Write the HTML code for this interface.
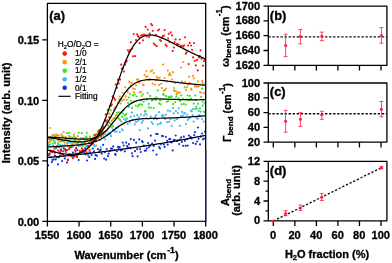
<!DOCTYPE html><html><head><meta charset="utf-8"><style>html,body{margin:0;padding:0;background:#fff;}svg{display:block;will-change:transform;}text{font-family:"Liberation Sans",sans-serif;}text[font-weight="bold"]{stroke:#000;stroke-width:0.3px;}text.lg{stroke:#000;stroke-width:0.22px;}</style></head><body>
<svg width="392" height="263" viewBox="0 0 392 263">
<rect width="392" height="263" fill="#fff"/>
<g fill="#1632d2">
<circle cx="48.2" cy="165.3" r="1.08"/>
<circle cx="48.9" cy="155.3" r="1.08"/>
<circle cx="49.8" cy="153.7" r="1.08"/>
<circle cx="50.9" cy="157.3" r="1.08"/>
<circle cx="51.8" cy="161.9" r="1.08"/>
<circle cx="52.6" cy="159.8" r="1.08"/>
<circle cx="53.7" cy="159.3" r="1.08"/>
<circle cx="54.9" cy="155.7" r="1.08"/>
<circle cx="55.7" cy="159.4" r="1.08"/>
<circle cx="56.9" cy="157.3" r="1.08"/>
<circle cx="58.0" cy="164.3" r="1.08"/>
<circle cx="58.9" cy="157.2" r="1.08"/>
<circle cx="59.8" cy="156.2" r="1.08"/>
<circle cx="60.9" cy="149.6" r="1.08"/>
<circle cx="62.1" cy="161.1" r="1.08"/>
<circle cx="62.8" cy="154.2" r="1.08"/>
<circle cx="63.9" cy="148.3" r="1.08"/>
<circle cx="64.8" cy="158.4" r="1.08"/>
<circle cx="65.9" cy="150.2" r="1.08"/>
<circle cx="67.0" cy="162.6" r="1.08"/>
<circle cx="67.7" cy="159.6" r="1.08"/>
<circle cx="69.0" cy="154.7" r="1.08"/>
<circle cx="70.0" cy="147.4" r="1.08"/>
<circle cx="70.9" cy="146.9" r="1.08"/>
<circle cx="71.9" cy="156.5" r="1.08"/>
<circle cx="73.0" cy="152.7" r="1.08"/>
<circle cx="73.6" cy="155.5" r="1.08"/>
<circle cx="74.8" cy="156.1" r="1.08"/>
<circle cx="76.2" cy="148.1" r="1.08"/>
<circle cx="77.2" cy="157.1" r="1.08"/>
<circle cx="78.1" cy="154.2" r="1.08"/>
<circle cx="78.7" cy="160.1" r="1.08"/>
<circle cx="80.0" cy="152.7" r="1.08"/>
<circle cx="80.9" cy="145.3" r="1.08"/>
<circle cx="81.8" cy="152.4" r="1.08"/>
<circle cx="82.8" cy="149.9" r="1.08"/>
<circle cx="83.9" cy="152.5" r="1.08"/>
<circle cx="85.1" cy="148.3" r="1.08"/>
<circle cx="85.9" cy="154.3" r="1.08"/>
<circle cx="87.1" cy="160.5" r="1.08"/>
<circle cx="88.1" cy="155.1" r="1.08"/>
<circle cx="89.2" cy="156.9" r="1.08"/>
<circle cx="90.1" cy="152.4" r="1.08"/>
<circle cx="91.0" cy="144.7" r="1.08"/>
<circle cx="91.6" cy="155.0" r="1.08"/>
<circle cx="92.8" cy="148.5" r="1.08"/>
<circle cx="94.0" cy="151.4" r="1.08"/>
<circle cx="95.0" cy="158.9" r="1.08"/>
<circle cx="95.6" cy="155.2" r="1.08"/>
<circle cx="96.9" cy="155.7" r="1.08"/>
<circle cx="97.9" cy="149.1" r="1.08"/>
<circle cx="99.0" cy="152.0" r="1.08"/>
<circle cx="100.0" cy="150.5" r="1.08"/>
<circle cx="100.7" cy="149.7" r="1.08"/>
<circle cx="101.7" cy="153.7" r="1.08"/>
<circle cx="103.1" cy="144.8" r="1.08"/>
<circle cx="104.2" cy="158.5" r="1.08"/>
<circle cx="104.8" cy="152.2" r="1.08"/>
<circle cx="106.1" cy="159.7" r="1.08"/>
<circle cx="106.7" cy="149.0" r="1.08"/>
<circle cx="107.9" cy="156.2" r="1.08"/>
<circle cx="108.7" cy="153.7" r="1.08"/>
<circle cx="110.0" cy="151.0" r="1.08"/>
<circle cx="110.9" cy="148.6" r="1.08"/>
<circle cx="112.0" cy="148.7" r="1.08"/>
<circle cx="113.2" cy="146.4" r="1.08"/>
<circle cx="114.1" cy="150.0" r="1.08"/>
<circle cx="115.1" cy="154.0" r="1.08"/>
<circle cx="115.6" cy="154.8" r="1.08"/>
<circle cx="116.8" cy="151.3" r="1.08"/>
<circle cx="118.1" cy="146.8" r="1.08"/>
<circle cx="118.6" cy="147.9" r="1.08"/>
<circle cx="119.8" cy="147.0" r="1.08"/>
<circle cx="120.9" cy="150.4" r="1.08"/>
<circle cx="121.9" cy="149.7" r="1.08"/>
<circle cx="122.8" cy="142.6" r="1.08"/>
<circle cx="123.7" cy="145.5" r="1.08"/>
<circle cx="124.8" cy="151.3" r="1.08"/>
<circle cx="126.2" cy="142.6" r="1.08"/>
<circle cx="127.1" cy="146.0" r="1.08"/>
<circle cx="127.7" cy="147.1" r="1.08"/>
<circle cx="128.9" cy="144.2" r="1.08"/>
<circle cx="130.2" cy="148.2" r="1.08"/>
<circle cx="130.8" cy="139.1" r="1.08"/>
<circle cx="132.1" cy="153.3" r="1.08"/>
<circle cx="132.6" cy="156.2" r="1.08"/>
<circle cx="134.0" cy="139.9" r="1.08"/>
<circle cx="135.0" cy="151.2" r="1.08"/>
<circle cx="136.2" cy="142.7" r="1.08"/>
<circle cx="137.2" cy="149.2" r="1.08"/>
<circle cx="137.6" cy="156.3" r="1.08"/>
<circle cx="139.2" cy="139.4" r="1.08"/>
<circle cx="140.1" cy="149.1" r="1.08"/>
<circle cx="140.7" cy="152.1" r="1.08"/>
<circle cx="142.0" cy="141.0" r="1.08"/>
<circle cx="142.7" cy="142.2" r="1.08"/>
<circle cx="143.9" cy="145.6" r="1.08"/>
<circle cx="144.7" cy="150.7" r="1.08"/>
<circle cx="146.0" cy="150.6" r="1.08"/>
<circle cx="146.7" cy="148.5" r="1.08"/>
<circle cx="148.1" cy="143.1" r="1.08"/>
<circle cx="148.9" cy="147.3" r="1.08"/>
<circle cx="150.0" cy="145.8" r="1.08"/>
<circle cx="150.8" cy="135.7" r="1.08"/>
<circle cx="152.1" cy="143.6" r="1.08"/>
<circle cx="153.1" cy="150.5" r="1.08"/>
<circle cx="153.8" cy="145.9" r="1.08"/>
<circle cx="155.1" cy="140.6" r="1.08"/>
<circle cx="156.1" cy="133.8" r="1.08"/>
<circle cx="156.6" cy="154.6" r="1.08"/>
<circle cx="157.6" cy="134.2" r="1.08"/>
<circle cx="159.1" cy="147.0" r="1.08"/>
<circle cx="160.0" cy="148.4" r="1.08"/>
<circle cx="160.8" cy="144.2" r="1.08"/>
<circle cx="162.1" cy="135.9" r="1.08"/>
<circle cx="162.8" cy="136.2" r="1.08"/>
<circle cx="163.8" cy="144.5" r="1.08"/>
<circle cx="164.6" cy="146.9" r="1.08"/>
<circle cx="165.8" cy="136.8" r="1.08"/>
<circle cx="167.1" cy="140.8" r="1.08"/>
<circle cx="167.7" cy="144.7" r="1.08"/>
<circle cx="169.2" cy="139.2" r="1.08"/>
<circle cx="170.2" cy="138.9" r="1.08"/>
<circle cx="170.8" cy="142.0" r="1.08"/>
<circle cx="171.7" cy="142.5" r="1.08"/>
<circle cx="172.7" cy="150.4" r="1.08"/>
<circle cx="173.6" cy="140.1" r="1.08"/>
<circle cx="174.6" cy="139.9" r="1.08"/>
<circle cx="175.7" cy="135.5" r="1.08"/>
<circle cx="177.1" cy="140.9" r="1.08"/>
<circle cx="177.6" cy="140.3" r="1.08"/>
<circle cx="179.2" cy="144.1" r="1.08"/>
<circle cx="179.9" cy="139.5" r="1.08"/>
<circle cx="181.1" cy="137.3" r="1.08"/>
<circle cx="181.8" cy="141.9" r="1.08"/>
<circle cx="183.1" cy="145.8" r="1.08"/>
<circle cx="183.8" cy="136.7" r="1.08"/>
<circle cx="184.9" cy="140.8" r="1.08"/>
<circle cx="185.7" cy="145.8" r="1.08"/>
<circle cx="187.0" cy="139.1" r="1.08"/>
<circle cx="187.7" cy="145.6" r="1.08"/>
<circle cx="188.9" cy="135.5" r="1.08"/>
<circle cx="190.2" cy="137.5" r="1.08"/>
<circle cx="190.8" cy="137.0" r="1.08"/>
<circle cx="191.6" cy="138.4" r="1.08"/>
<circle cx="193.1" cy="143.0" r="1.08"/>
<circle cx="194.2" cy="135.2" r="1.08"/>
<circle cx="194.9" cy="132.2" r="1.08"/>
<circle cx="195.7" cy="143.9" r="1.08"/>
<circle cx="197.1" cy="141.5" r="1.08"/>
<circle cx="198.0" cy="127.5" r="1.08"/>
<circle cx="198.6" cy="138.8" r="1.08"/>
<circle cx="200.0" cy="144.4" r="1.08"/>
<circle cx="200.7" cy="136.7" r="1.08"/>
<circle cx="202.1" cy="133.5" r="1.08"/>
<circle cx="202.9" cy="139.4" r="1.08"/>
<circle cx="204.1" cy="138.5" r="1.08"/>
<circle cx="205.0" cy="131.7" r="1.08"/>
</g>
<g fill="#3cbaf8">
<circle cx="47.9" cy="144.6" r="1.08"/>
<circle cx="48.8" cy="145.1" r="1.08"/>
<circle cx="49.8" cy="144.3" r="1.08"/>
<circle cx="50.6" cy="137.6" r="1.08"/>
<circle cx="51.9" cy="139.1" r="1.08"/>
<circle cx="53.2" cy="145.7" r="1.08"/>
<circle cx="54.0" cy="148.7" r="1.08"/>
<circle cx="54.8" cy="141.8" r="1.08"/>
<circle cx="55.8" cy="148.6" r="1.08"/>
<circle cx="57.0" cy="146.3" r="1.08"/>
<circle cx="58.2" cy="144.6" r="1.08"/>
<circle cx="59.0" cy="150.8" r="1.08"/>
<circle cx="59.9" cy="154.2" r="1.08"/>
<circle cx="61.0" cy="146.2" r="1.08"/>
<circle cx="61.9" cy="147.6" r="1.08"/>
<circle cx="62.7" cy="145.3" r="1.08"/>
<circle cx="64.1" cy="150.1" r="1.08"/>
<circle cx="64.9" cy="145.3" r="1.08"/>
<circle cx="66.2" cy="140.4" r="1.08"/>
<circle cx="66.7" cy="139.3" r="1.08"/>
<circle cx="67.9" cy="142.9" r="1.08"/>
<circle cx="69.1" cy="140.5" r="1.08"/>
<circle cx="69.9" cy="141.8" r="1.08"/>
<circle cx="70.9" cy="142.8" r="1.08"/>
<circle cx="72.0" cy="142.1" r="1.08"/>
<circle cx="73.2" cy="146.7" r="1.08"/>
<circle cx="73.9" cy="141.3" r="1.08"/>
<circle cx="75.2" cy="140.1" r="1.08"/>
<circle cx="75.8" cy="137.9" r="1.08"/>
<circle cx="77.1" cy="150.2" r="1.08"/>
<circle cx="77.7" cy="143.8" r="1.08"/>
<circle cx="78.8" cy="145.8" r="1.08"/>
<circle cx="79.7" cy="146.1" r="1.08"/>
<circle cx="80.9" cy="138.3" r="1.08"/>
<circle cx="81.8" cy="144.1" r="1.08"/>
<circle cx="83.0" cy="143.8" r="1.08"/>
<circle cx="83.8" cy="138.0" r="1.08"/>
<circle cx="84.7" cy="141.2" r="1.08"/>
<circle cx="85.8" cy="145.8" r="1.08"/>
<circle cx="87.0" cy="147.1" r="1.08"/>
<circle cx="87.8" cy="155.2" r="1.08"/>
<circle cx="88.9" cy="152.1" r="1.08"/>
<circle cx="89.9" cy="142.7" r="1.08"/>
<circle cx="90.8" cy="143.2" r="1.08"/>
<circle cx="91.6" cy="141.7" r="1.08"/>
<circle cx="92.7" cy="138.8" r="1.08"/>
<circle cx="94.0" cy="144.8" r="1.08"/>
<circle cx="94.6" cy="146.2" r="1.08"/>
<circle cx="96.2" cy="138.4" r="1.08"/>
<circle cx="96.9" cy="137.4" r="1.08"/>
<circle cx="97.8" cy="138.0" r="1.08"/>
<circle cx="99.0" cy="130.1" r="1.08"/>
<circle cx="100.1" cy="140.2" r="1.08"/>
<circle cx="100.7" cy="147.2" r="1.08"/>
<circle cx="102.0" cy="138.5" r="1.08"/>
<circle cx="102.8" cy="132.6" r="1.08"/>
<circle cx="103.9" cy="137.3" r="1.08"/>
<circle cx="105.1" cy="139.3" r="1.08"/>
<circle cx="105.9" cy="134.7" r="1.08"/>
<circle cx="106.9" cy="131.0" r="1.08"/>
<circle cx="107.8" cy="134.4" r="1.08"/>
<circle cx="109.2" cy="133.1" r="1.08"/>
<circle cx="110.2" cy="133.9" r="1.08"/>
<circle cx="111.1" cy="136.2" r="1.08"/>
<circle cx="112.0" cy="127.4" r="1.08"/>
<circle cx="112.8" cy="129.5" r="1.08"/>
<circle cx="114.0" cy="130.2" r="1.08"/>
<circle cx="115.0" cy="131.6" r="1.08"/>
<circle cx="115.9" cy="128.2" r="1.08"/>
<circle cx="116.7" cy="131.6" r="1.08"/>
<circle cx="117.7" cy="127.7" r="1.08"/>
<circle cx="118.6" cy="118.3" r="1.08"/>
<circle cx="119.8" cy="132.2" r="1.08"/>
<circle cx="121.1" cy="121.4" r="1.08"/>
<circle cx="122.1" cy="129.3" r="1.08"/>
<circle cx="122.6" cy="130.3" r="1.08"/>
<circle cx="124.1" cy="119.0" r="1.08"/>
<circle cx="124.9" cy="115.0" r="1.08"/>
<circle cx="125.6" cy="120.4" r="1.08"/>
<circle cx="126.6" cy="118.7" r="1.08"/>
<circle cx="127.7" cy="123.9" r="1.08"/>
<circle cx="128.8" cy="107.0" r="1.08"/>
<circle cx="129.8" cy="122.3" r="1.08"/>
<circle cx="130.7" cy="116.7" r="1.08"/>
<circle cx="131.8" cy="112.7" r="1.08"/>
<circle cx="132.7" cy="119.9" r="1.08"/>
<circle cx="134.2" cy="116.1" r="1.08"/>
<circle cx="134.8" cy="124.3" r="1.08"/>
<circle cx="136.0" cy="121.9" r="1.08"/>
<circle cx="137.1" cy="115.1" r="1.08"/>
<circle cx="138.1" cy="120.8" r="1.08"/>
<circle cx="138.8" cy="117.0" r="1.08"/>
<circle cx="139.7" cy="130.2" r="1.08"/>
<circle cx="141.1" cy="114.6" r="1.08"/>
<circle cx="141.9" cy="122.9" r="1.08"/>
<circle cx="142.9" cy="121.0" r="1.08"/>
<circle cx="144.0" cy="115.6" r="1.08"/>
<circle cx="145.2" cy="113.5" r="1.08"/>
<circle cx="146.1" cy="118.0" r="1.08"/>
<circle cx="146.7" cy="114.8" r="1.08"/>
<circle cx="148.1" cy="128.4" r="1.08"/>
<circle cx="148.7" cy="103.9" r="1.08"/>
<circle cx="149.8" cy="118.5" r="1.08"/>
<circle cx="150.8" cy="116.7" r="1.08"/>
<circle cx="151.7" cy="122.2" r="1.08"/>
<circle cx="152.9" cy="124.0" r="1.08"/>
<circle cx="154.0" cy="118.9" r="1.08"/>
<circle cx="155.2" cy="117.1" r="1.08"/>
<circle cx="156.0" cy="115.1" r="1.08"/>
<circle cx="156.8" cy="119.3" r="1.08"/>
<circle cx="157.7" cy="124.4" r="1.08"/>
<circle cx="159.0" cy="112.2" r="1.08"/>
<circle cx="160.1" cy="123.8" r="1.08"/>
<circle cx="160.8" cy="122.9" r="1.08"/>
<circle cx="161.8" cy="116.0" r="1.08"/>
<circle cx="162.6" cy="114.9" r="1.08"/>
<circle cx="163.6" cy="116.5" r="1.08"/>
<circle cx="165.2" cy="118.9" r="1.08"/>
<circle cx="165.8" cy="114.9" r="1.08"/>
<circle cx="167.1" cy="122.0" r="1.08"/>
<circle cx="167.9" cy="110.6" r="1.08"/>
<circle cx="169.1" cy="121.8" r="1.08"/>
<circle cx="170.1" cy="111.3" r="1.08"/>
<circle cx="170.6" cy="119.3" r="1.08"/>
<circle cx="171.7" cy="125.8" r="1.08"/>
<circle cx="173.1" cy="108.1" r="1.08"/>
<circle cx="173.7" cy="113.4" r="1.08"/>
<circle cx="174.6" cy="120.4" r="1.08"/>
<circle cx="175.9" cy="111.0" r="1.08"/>
<circle cx="177.1" cy="119.2" r="1.08"/>
<circle cx="177.8" cy="113.1" r="1.08"/>
<circle cx="178.9" cy="108.3" r="1.08"/>
<circle cx="179.8" cy="125.8" r="1.08"/>
<circle cx="180.8" cy="116.2" r="1.08"/>
<circle cx="182.0" cy="111.9" r="1.08"/>
<circle cx="182.8" cy="115.6" r="1.08"/>
<circle cx="184.1" cy="113.4" r="1.08"/>
<circle cx="184.9" cy="113.2" r="1.08"/>
<circle cx="186.0" cy="124.1" r="1.08"/>
<circle cx="187.2" cy="114.6" r="1.08"/>
<circle cx="187.8" cy="119.8" r="1.08"/>
<circle cx="188.8" cy="118.3" r="1.08"/>
<circle cx="189.9" cy="117.8" r="1.08"/>
<circle cx="191.1" cy="110.7" r="1.08"/>
<circle cx="191.8" cy="111.4" r="1.08"/>
<circle cx="192.6" cy="115.0" r="1.08"/>
<circle cx="193.6" cy="121.6" r="1.08"/>
<circle cx="195.2" cy="109.0" r="1.08"/>
<circle cx="196.1" cy="106.7" r="1.08"/>
<circle cx="196.7" cy="118.2" r="1.08"/>
<circle cx="197.7" cy="118.7" r="1.08"/>
<circle cx="199.0" cy="115.3" r="1.08"/>
<circle cx="200.0" cy="116.5" r="1.08"/>
<circle cx="200.7" cy="111.7" r="1.08"/>
<circle cx="202.0" cy="119.0" r="1.08"/>
<circle cx="202.7" cy="105.7" r="1.08"/>
<circle cx="203.7" cy="121.5" r="1.08"/>
<circle cx="204.9" cy="112.3" r="1.08"/>
</g>
<g fill="#38e61c">
<circle cx="48.0" cy="148.6" r="1.08"/>
<circle cx="49.1" cy="139.3" r="1.08"/>
<circle cx="50.1" cy="141.4" r="1.08"/>
<circle cx="50.8" cy="140.0" r="1.08"/>
<circle cx="51.8" cy="137.6" r="1.08"/>
<circle cx="52.7" cy="143.3" r="1.08"/>
<circle cx="53.6" cy="140.4" r="1.08"/>
<circle cx="55.0" cy="143.3" r="1.08"/>
<circle cx="55.9" cy="136.9" r="1.08"/>
<circle cx="57.0" cy="135.2" r="1.08"/>
<circle cx="58.1" cy="143.4" r="1.08"/>
<circle cx="58.8" cy="139.0" r="1.08"/>
<circle cx="60.1" cy="145.3" r="1.08"/>
<circle cx="60.9" cy="140.5" r="1.08"/>
<circle cx="61.7" cy="136.2" r="1.08"/>
<circle cx="62.8" cy="141.5" r="1.08"/>
<circle cx="63.9" cy="140.6" r="1.08"/>
<circle cx="65.0" cy="139.7" r="1.08"/>
<circle cx="65.9" cy="138.3" r="1.08"/>
<circle cx="66.9" cy="133.0" r="1.08"/>
<circle cx="68.0" cy="140.5" r="1.08"/>
<circle cx="69.0" cy="133.0" r="1.08"/>
<circle cx="70.1" cy="137.2" r="1.08"/>
<circle cx="70.9" cy="146.2" r="1.08"/>
<circle cx="72.0" cy="137.6" r="1.08"/>
<circle cx="72.7" cy="143.1" r="1.08"/>
<circle cx="74.0" cy="136.7" r="1.08"/>
<circle cx="75.2" cy="138.3" r="1.08"/>
<circle cx="75.7" cy="138.6" r="1.08"/>
<circle cx="76.6" cy="142.3" r="1.08"/>
<circle cx="78.1" cy="142.7" r="1.08"/>
<circle cx="78.6" cy="132.8" r="1.08"/>
<circle cx="80.0" cy="141.7" r="1.08"/>
<circle cx="80.7" cy="142.2" r="1.08"/>
<circle cx="81.8" cy="133.2" r="1.08"/>
<circle cx="82.6" cy="145.8" r="1.08"/>
<circle cx="83.7" cy="144.7" r="1.08"/>
<circle cx="85.0" cy="138.5" r="1.08"/>
<circle cx="86.1" cy="136.6" r="1.08"/>
<circle cx="86.9" cy="132.8" r="1.08"/>
<circle cx="87.8" cy="140.1" r="1.08"/>
<circle cx="88.8" cy="143.0" r="1.08"/>
<circle cx="89.9" cy="136.7" r="1.08"/>
<circle cx="91.2" cy="141.3" r="1.08"/>
<circle cx="92.1" cy="141.3" r="1.08"/>
<circle cx="92.9" cy="137.6" r="1.08"/>
<circle cx="93.9" cy="135.3" r="1.08"/>
<circle cx="95.1" cy="138.5" r="1.08"/>
<circle cx="95.9" cy="140.6" r="1.08"/>
<circle cx="96.9" cy="134.2" r="1.08"/>
<circle cx="97.9" cy="131.3" r="1.08"/>
<circle cx="99.0" cy="131.1" r="1.08"/>
<circle cx="100.0" cy="134.2" r="1.08"/>
<circle cx="101.2" cy="128.9" r="1.08"/>
<circle cx="101.9" cy="130.9" r="1.08"/>
<circle cx="102.7" cy="126.4" r="1.08"/>
<circle cx="103.8" cy="134.1" r="1.08"/>
<circle cx="104.9" cy="132.1" r="1.08"/>
<circle cx="106.2" cy="131.1" r="1.08"/>
<circle cx="106.9" cy="124.9" r="1.08"/>
<circle cx="108.0" cy="125.5" r="1.08"/>
<circle cx="109.1" cy="122.7" r="1.08"/>
<circle cx="110.1" cy="123.4" r="1.08"/>
<circle cx="110.7" cy="110.4" r="1.08"/>
<circle cx="111.8" cy="123.8" r="1.08"/>
<circle cx="113.1" cy="126.0" r="1.08"/>
<circle cx="113.8" cy="118.3" r="1.08"/>
<circle cx="115.0" cy="118.0" r="1.08"/>
<circle cx="115.7" cy="118.3" r="1.08"/>
<circle cx="116.9" cy="112.8" r="1.08"/>
<circle cx="118.2" cy="118.3" r="1.08"/>
<circle cx="118.8" cy="112.4" r="1.08"/>
<circle cx="120.0" cy="119.9" r="1.08"/>
<circle cx="120.6" cy="103.5" r="1.08"/>
<circle cx="122.1" cy="116.9" r="1.08"/>
<circle cx="122.9" cy="113.4" r="1.08"/>
<circle cx="123.7" cy="110.3" r="1.08"/>
<circle cx="124.8" cy="115.4" r="1.08"/>
<circle cx="126.1" cy="114.1" r="1.08"/>
<circle cx="127.0" cy="118.5" r="1.08"/>
<circle cx="128.1" cy="103.0" r="1.08"/>
<circle cx="128.9" cy="97.5" r="1.08"/>
<circle cx="129.9" cy="93.8" r="1.08"/>
<circle cx="130.8" cy="100.8" r="1.08"/>
<circle cx="132.1" cy="107.9" r="1.08"/>
<circle cx="132.8" cy="95.4" r="1.08"/>
<circle cx="133.8" cy="101.5" r="1.08"/>
<circle cx="134.9" cy="94.5" r="1.08"/>
<circle cx="135.7" cy="105.5" r="1.08"/>
<circle cx="136.6" cy="96.5" r="1.08"/>
<circle cx="137.7" cy="106.5" r="1.08"/>
<circle cx="138.7" cy="105.2" r="1.08"/>
<circle cx="139.8" cy="104.4" r="1.08"/>
<circle cx="140.9" cy="100.6" r="1.08"/>
<circle cx="141.9" cy="104.7" r="1.08"/>
<circle cx="142.8" cy="94.4" r="1.08"/>
<circle cx="143.7" cy="101.7" r="1.08"/>
<circle cx="144.8" cy="111.2" r="1.08"/>
<circle cx="145.7" cy="111.3" r="1.08"/>
<circle cx="146.8" cy="99.9" r="1.08"/>
<circle cx="147.7" cy="93.2" r="1.08"/>
<circle cx="148.8" cy="107.4" r="1.08"/>
<circle cx="150.1" cy="95.9" r="1.08"/>
<circle cx="150.7" cy="107.9" r="1.08"/>
<circle cx="152.0" cy="100.4" r="1.08"/>
<circle cx="152.7" cy="100.2" r="1.08"/>
<circle cx="153.8" cy="108.1" r="1.08"/>
<circle cx="154.8" cy="98.5" r="1.08"/>
<circle cx="155.9" cy="99.9" r="1.08"/>
<circle cx="156.6" cy="97.3" r="1.08"/>
<circle cx="157.8" cy="90.4" r="1.08"/>
<circle cx="159.2" cy="103.4" r="1.08"/>
<circle cx="160.0" cy="100.3" r="1.08"/>
<circle cx="160.6" cy="104.3" r="1.08"/>
<circle cx="161.8" cy="99.3" r="1.08"/>
<circle cx="163.1" cy="94.1" r="1.08"/>
<circle cx="163.7" cy="94.9" r="1.08"/>
<circle cx="164.9" cy="90.1" r="1.08"/>
<circle cx="166.1" cy="96.2" r="1.08"/>
<circle cx="166.9" cy="101.8" r="1.08"/>
<circle cx="168.1" cy="101.0" r="1.08"/>
<circle cx="168.7" cy="96.9" r="1.08"/>
<circle cx="169.9" cy="97.4" r="1.08"/>
<circle cx="171.2" cy="96.4" r="1.08"/>
<circle cx="171.6" cy="97.0" r="1.08"/>
<circle cx="173.0" cy="104.2" r="1.08"/>
<circle cx="174.0" cy="90.7" r="1.08"/>
<circle cx="175.2" cy="102.0" r="1.08"/>
<circle cx="176.1" cy="97.0" r="1.08"/>
<circle cx="176.7" cy="94.7" r="1.08"/>
<circle cx="178.1" cy="98.8" r="1.08"/>
<circle cx="178.7" cy="98.7" r="1.08"/>
<circle cx="180.1" cy="100.9" r="1.08"/>
<circle cx="181.1" cy="95.3" r="1.08"/>
<circle cx="181.7" cy="104.3" r="1.08"/>
<circle cx="182.9" cy="98.9" r="1.08"/>
<circle cx="183.7" cy="104.0" r="1.08"/>
<circle cx="184.7" cy="87.4" r="1.08"/>
<circle cx="185.8" cy="104.6" r="1.08"/>
<circle cx="186.8" cy="99.7" r="1.08"/>
<circle cx="187.6" cy="95.5" r="1.08"/>
<circle cx="189.0" cy="100.3" r="1.08"/>
<circle cx="189.8" cy="95.8" r="1.08"/>
<circle cx="191.0" cy="98.5" r="1.08"/>
<circle cx="191.7" cy="99.9" r="1.08"/>
<circle cx="193.1" cy="109.0" r="1.08"/>
<circle cx="193.7" cy="103.6" r="1.08"/>
<circle cx="195.2" cy="95.4" r="1.08"/>
<circle cx="195.9" cy="99.8" r="1.08"/>
<circle cx="196.9" cy="108.7" r="1.08"/>
<circle cx="198.0" cy="103.8" r="1.08"/>
<circle cx="198.7" cy="110.9" r="1.08"/>
<circle cx="199.9" cy="108.4" r="1.08"/>
<circle cx="201.2" cy="96.9" r="1.08"/>
<circle cx="202.1" cy="88.7" r="1.08"/>
<circle cx="202.9" cy="101.7" r="1.08"/>
<circle cx="204.1" cy="111.7" r="1.08"/>
<circle cx="204.7" cy="103.6" r="1.08"/>
</g>
<g fill="#ff9410">
<circle cx="47.8" cy="138.4" r="1.08"/>
<circle cx="48.8" cy="142.5" r="1.08"/>
<circle cx="50.2" cy="128.0" r="1.08"/>
<circle cx="50.6" cy="140.8" r="1.08"/>
<circle cx="52.0" cy="138.0" r="1.08"/>
<circle cx="52.6" cy="135.2" r="1.08"/>
<circle cx="53.7" cy="135.0" r="1.08"/>
<circle cx="54.7" cy="135.9" r="1.08"/>
<circle cx="56.1" cy="134.4" r="1.08"/>
<circle cx="56.8" cy="137.4" r="1.08"/>
<circle cx="58.1" cy="140.6" r="1.08"/>
<circle cx="58.8" cy="135.4" r="1.08"/>
<circle cx="60.0" cy="141.6" r="1.08"/>
<circle cx="61.0" cy="141.0" r="1.08"/>
<circle cx="61.6" cy="134.0" r="1.08"/>
<circle cx="63.1" cy="136.4" r="1.08"/>
<circle cx="63.7" cy="131.9" r="1.08"/>
<circle cx="64.8" cy="142.6" r="1.08"/>
<circle cx="65.6" cy="136.9" r="1.08"/>
<circle cx="66.8" cy="143.8" r="1.08"/>
<circle cx="67.9" cy="146.6" r="1.08"/>
<circle cx="68.9" cy="136.0" r="1.08"/>
<circle cx="69.9" cy="139.3" r="1.08"/>
<circle cx="70.6" cy="138.7" r="1.08"/>
<circle cx="71.8" cy="145.0" r="1.08"/>
<circle cx="73.1" cy="145.0" r="1.08"/>
<circle cx="74.0" cy="134.6" r="1.08"/>
<circle cx="75.0" cy="143.0" r="1.08"/>
<circle cx="75.9" cy="141.0" r="1.08"/>
<circle cx="76.6" cy="145.6" r="1.08"/>
<circle cx="77.7" cy="136.2" r="1.08"/>
<circle cx="79.1" cy="140.5" r="1.08"/>
<circle cx="79.9" cy="145.5" r="1.08"/>
<circle cx="81.1" cy="150.7" r="1.08"/>
<circle cx="81.9" cy="138.5" r="1.08"/>
<circle cx="82.7" cy="138.8" r="1.08"/>
<circle cx="84.1" cy="143.7" r="1.08"/>
<circle cx="85.1" cy="142.5" r="1.08"/>
<circle cx="86.1" cy="140.9" r="1.08"/>
<circle cx="87.1" cy="137.8" r="1.08"/>
<circle cx="87.8" cy="149.1" r="1.08"/>
<circle cx="88.8" cy="145.6" r="1.08"/>
<circle cx="90.0" cy="137.7" r="1.08"/>
<circle cx="91.0" cy="140.2" r="1.08"/>
<circle cx="92.0" cy="144.6" r="1.08"/>
<circle cx="93.1" cy="144.2" r="1.08"/>
<circle cx="93.9" cy="140.6" r="1.08"/>
<circle cx="94.8" cy="137.2" r="1.08"/>
<circle cx="96.1" cy="145.7" r="1.08"/>
<circle cx="96.8" cy="133.7" r="1.08"/>
<circle cx="98.0" cy="135.8" r="1.08"/>
<circle cx="99.0" cy="132.1" r="1.08"/>
<circle cx="100.1" cy="137.1" r="1.08"/>
<circle cx="101.1" cy="129.5" r="1.08"/>
<circle cx="101.9" cy="134.9" r="1.08"/>
<circle cx="103.1" cy="135.5" r="1.08"/>
<circle cx="104.1" cy="131.9" r="1.08"/>
<circle cx="105.1" cy="121.1" r="1.08"/>
<circle cx="106.2" cy="123.4" r="1.08"/>
<circle cx="107.1" cy="119.8" r="1.08"/>
<circle cx="108.1" cy="121.9" r="1.08"/>
<circle cx="109.1" cy="114.0" r="1.08"/>
<circle cx="109.7" cy="113.6" r="1.08"/>
<circle cx="110.6" cy="117.2" r="1.08"/>
<circle cx="111.9" cy="120.9" r="1.08"/>
<circle cx="113.1" cy="119.1" r="1.08"/>
<circle cx="114.0" cy="109.5" r="1.08"/>
<circle cx="114.9" cy="107.3" r="1.08"/>
<circle cx="115.8" cy="115.7" r="1.08"/>
<circle cx="117.0" cy="115.0" r="1.08"/>
<circle cx="118.0" cy="102.9" r="1.08"/>
<circle cx="119.0" cy="99.7" r="1.08"/>
<circle cx="119.8" cy="96.6" r="1.08"/>
<circle cx="121.2" cy="99.1" r="1.08"/>
<circle cx="121.7" cy="100.7" r="1.08"/>
<circle cx="122.7" cy="92.8" r="1.08"/>
<circle cx="123.9" cy="99.7" r="1.08"/>
<circle cx="125.1" cy="87.3" r="1.08"/>
<circle cx="125.7" cy="96.3" r="1.08"/>
<circle cx="126.8" cy="100.0" r="1.08"/>
<circle cx="127.7" cy="91.9" r="1.08"/>
<circle cx="129.2" cy="81.6" r="1.08"/>
<circle cx="129.7" cy="82.5" r="1.08"/>
<circle cx="130.9" cy="85.5" r="1.08"/>
<circle cx="131.8" cy="83.0" r="1.08"/>
<circle cx="132.9" cy="88.4" r="1.08"/>
<circle cx="133.8" cy="92.4" r="1.08"/>
<circle cx="134.8" cy="89.0" r="1.08"/>
<circle cx="136.1" cy="85.5" r="1.08"/>
<circle cx="136.9" cy="79.6" r="1.08"/>
<circle cx="138.1" cy="79.4" r="1.08"/>
<circle cx="139.0" cy="82.5" r="1.08"/>
<circle cx="139.7" cy="92.6" r="1.08"/>
<circle cx="141.1" cy="91.9" r="1.08"/>
<circle cx="141.7" cy="96.0" r="1.08"/>
<circle cx="143.0" cy="84.5" r="1.08"/>
<circle cx="143.6" cy="85.2" r="1.08"/>
<circle cx="144.7" cy="74.9" r="1.08"/>
<circle cx="146.1" cy="76.9" r="1.08"/>
<circle cx="146.6" cy="71.0" r="1.08"/>
<circle cx="147.8" cy="76.3" r="1.08"/>
<circle cx="148.8" cy="80.1" r="1.08"/>
<circle cx="149.8" cy="79.1" r="1.08"/>
<circle cx="150.8" cy="71.4" r="1.08"/>
<circle cx="152.2" cy="70.4" r="1.08"/>
<circle cx="152.7" cy="83.7" r="1.08"/>
<circle cx="153.8" cy="73.2" r="1.08"/>
<circle cx="155.0" cy="84.8" r="1.08"/>
<circle cx="155.8" cy="80.1" r="1.08"/>
<circle cx="156.7" cy="76.8" r="1.08"/>
<circle cx="157.8" cy="78.4" r="1.08"/>
<circle cx="159.0" cy="84.8" r="1.08"/>
<circle cx="159.7" cy="77.6" r="1.08"/>
<circle cx="161.2" cy="83.8" r="1.08"/>
<circle cx="161.9" cy="88.1" r="1.08"/>
<circle cx="163.1" cy="64.6" r="1.08"/>
<circle cx="163.9" cy="90.7" r="1.08"/>
<circle cx="164.6" cy="78.0" r="1.08"/>
<circle cx="165.9" cy="88.6" r="1.08"/>
<circle cx="166.8" cy="81.3" r="1.08"/>
<circle cx="167.8" cy="70.7" r="1.08"/>
<circle cx="168.9" cy="74.9" r="1.08"/>
<circle cx="169.9" cy="73.3" r="1.08"/>
<circle cx="170.6" cy="75.1" r="1.08"/>
<circle cx="172.1" cy="79.5" r="1.08"/>
<circle cx="172.9" cy="72.2" r="1.08"/>
<circle cx="174.1" cy="88.1" r="1.08"/>
<circle cx="175.0" cy="83.0" r="1.08"/>
<circle cx="175.7" cy="91.1" r="1.08"/>
<circle cx="176.7" cy="93.4" r="1.08"/>
<circle cx="177.6" cy="92.0" r="1.08"/>
<circle cx="179.1" cy="92.7" r="1.08"/>
<circle cx="179.6" cy="92.7" r="1.08"/>
<circle cx="181.1" cy="67.6" r="1.08"/>
<circle cx="181.9" cy="81.5" r="1.08"/>
<circle cx="183.2" cy="62.0" r="1.08"/>
<circle cx="183.9" cy="83.5" r="1.08"/>
<circle cx="185.1" cy="82.4" r="1.08"/>
<circle cx="186.1" cy="90.1" r="1.08"/>
<circle cx="187.1" cy="87.1" r="1.08"/>
<circle cx="188.1" cy="84.4" r="1.08"/>
<circle cx="189.1" cy="76.7" r="1.08"/>
<circle cx="189.6" cy="82.9" r="1.08"/>
<circle cx="191.0" cy="88.7" r="1.08"/>
<circle cx="191.6" cy="89.8" r="1.08"/>
<circle cx="192.8" cy="75.9" r="1.08"/>
<circle cx="193.8" cy="78.4" r="1.08"/>
<circle cx="194.7" cy="86.4" r="1.08"/>
<circle cx="196.0" cy="86.0" r="1.08"/>
<circle cx="196.9" cy="86.8" r="1.08"/>
<circle cx="198.0" cy="81.4" r="1.08"/>
<circle cx="198.7" cy="86.3" r="1.08"/>
<circle cx="200.0" cy="92.2" r="1.08"/>
<circle cx="201.2" cy="92.6" r="1.08"/>
<circle cx="202.2" cy="80.8" r="1.08"/>
<circle cx="202.7" cy="83.2" r="1.08"/>
<circle cx="203.8" cy="93.2" r="1.08"/>
<circle cx="205.0" cy="84.5" r="1.08"/>
</g>
<g fill="#ff1414">
<circle cx="47.7" cy="155.0" r="1.08"/>
<circle cx="49.0" cy="154.0" r="1.08"/>
<circle cx="50.2" cy="150.3" r="1.08"/>
<circle cx="51.2" cy="151.6" r="1.08"/>
<circle cx="52.2" cy="152.2" r="1.08"/>
<circle cx="52.7" cy="151.2" r="1.08"/>
<circle cx="53.8" cy="151.1" r="1.08"/>
<circle cx="54.9" cy="152.7" r="1.08"/>
<circle cx="55.7" cy="147.7" r="1.08"/>
<circle cx="56.6" cy="147.4" r="1.08"/>
<circle cx="57.9" cy="150.5" r="1.08"/>
<circle cx="59.2" cy="147.1" r="1.08"/>
<circle cx="60.1" cy="152.3" r="1.08"/>
<circle cx="61.1" cy="151.1" r="1.08"/>
<circle cx="61.7" cy="154.6" r="1.08"/>
<circle cx="63.2" cy="151.3" r="1.08"/>
<circle cx="63.9" cy="156.0" r="1.08"/>
<circle cx="64.9" cy="149.1" r="1.08"/>
<circle cx="65.8" cy="152.1" r="1.08"/>
<circle cx="67.0" cy="150.2" r="1.08"/>
<circle cx="67.9" cy="160.3" r="1.08"/>
<circle cx="69.0" cy="149.2" r="1.08"/>
<circle cx="69.9" cy="154.4" r="1.08"/>
<circle cx="71.0" cy="155.8" r="1.08"/>
<circle cx="71.7" cy="146.9" r="1.08"/>
<circle cx="72.9" cy="158.2" r="1.08"/>
<circle cx="74.1" cy="156.7" r="1.08"/>
<circle cx="75.1" cy="150.0" r="1.08"/>
<circle cx="75.6" cy="151.7" r="1.08"/>
<circle cx="76.7" cy="155.8" r="1.08"/>
<circle cx="77.7" cy="150.0" r="1.08"/>
<circle cx="79.2" cy="153.8" r="1.08"/>
<circle cx="79.9" cy="151.0" r="1.08"/>
<circle cx="81.0" cy="151.8" r="1.08"/>
<circle cx="81.9" cy="148.3" r="1.08"/>
<circle cx="82.6" cy="151.1" r="1.08"/>
<circle cx="83.6" cy="151.5" r="1.08"/>
<circle cx="84.9" cy="150.6" r="1.08"/>
<circle cx="85.7" cy="151.2" r="1.08"/>
<circle cx="86.6" cy="152.5" r="1.08"/>
<circle cx="88.1" cy="145.9" r="1.08"/>
<circle cx="88.9" cy="147.0" r="1.08"/>
<circle cx="89.7" cy="150.0" r="1.08"/>
<circle cx="90.9" cy="142.5" r="1.08"/>
<circle cx="92.1" cy="140.5" r="1.08"/>
<circle cx="93.0" cy="142.7" r="1.08"/>
<circle cx="93.8" cy="140.2" r="1.08"/>
<circle cx="95.2" cy="134.9" r="1.08"/>
<circle cx="96.1" cy="139.9" r="1.08"/>
<circle cx="97.1" cy="137.3" r="1.08"/>
<circle cx="97.8" cy="138.1" r="1.08"/>
<circle cx="99.1" cy="131.3" r="1.08"/>
<circle cx="99.7" cy="131.4" r="1.08"/>
<circle cx="101.0" cy="136.3" r="1.08"/>
<circle cx="101.6" cy="132.8" r="1.08"/>
<circle cx="102.7" cy="128.6" r="1.08"/>
<circle cx="103.7" cy="126.9" r="1.08"/>
<circle cx="105.1" cy="120.6" r="1.08"/>
<circle cx="105.7" cy="114.3" r="1.08"/>
<circle cx="106.7" cy="121.1" r="1.08"/>
<circle cx="107.8" cy="110.0" r="1.08"/>
<circle cx="109.1" cy="117.3" r="1.08"/>
<circle cx="109.8" cy="106.1" r="1.08"/>
<circle cx="111.0" cy="105.7" r="1.08"/>
<circle cx="111.8" cy="104.6" r="1.08"/>
<circle cx="112.7" cy="96.4" r="1.08"/>
<circle cx="114.2" cy="98.2" r="1.08"/>
<circle cx="115.0" cy="99.9" r="1.08"/>
<circle cx="115.8" cy="84.4" r="1.08"/>
<circle cx="117.0" cy="87.8" r="1.08"/>
<circle cx="117.9" cy="79.8" r="1.08"/>
<circle cx="118.8" cy="83.5" r="1.08"/>
<circle cx="120.2" cy="79.6" r="1.08"/>
<circle cx="121.2" cy="64.7" r="1.08"/>
<circle cx="121.8" cy="68.7" r="1.08"/>
<circle cx="123.0" cy="68.4" r="1.08"/>
<circle cx="124.0" cy="71.6" r="1.08"/>
<circle cx="125.0" cy="64.7" r="1.08"/>
<circle cx="125.8" cy="62.5" r="1.08"/>
<circle cx="126.8" cy="61.0" r="1.08"/>
<circle cx="127.8" cy="50.3" r="1.08"/>
<circle cx="129.0" cy="51.9" r="1.08"/>
<circle cx="130.0" cy="50.1" r="1.08"/>
<circle cx="130.8" cy="42.3" r="1.08"/>
<circle cx="131.8" cy="48.9" r="1.08"/>
<circle cx="133.0" cy="56.4" r="1.08"/>
<circle cx="133.7" cy="34.1" r="1.08"/>
<circle cx="135.2" cy="56.2" r="1.08"/>
<circle cx="136.0" cy="40.1" r="1.08"/>
<circle cx="137.2" cy="34.4" r="1.08"/>
<circle cx="138.0" cy="36.2" r="1.08"/>
<circle cx="139.2" cy="37.3" r="1.08"/>
<circle cx="139.6" cy="43.2" r="1.08"/>
<circle cx="141.0" cy="35.6" r="1.08"/>
<circle cx="142.1" cy="35.1" r="1.08"/>
<circle cx="143.0" cy="40.3" r="1.08"/>
<circle cx="144.0" cy="34.6" r="1.08"/>
<circle cx="144.8" cy="35.2" r="1.08"/>
<circle cx="145.6" cy="26.9" r="1.08"/>
<circle cx="146.7" cy="36.5" r="1.08"/>
<circle cx="147.8" cy="29.6" r="1.08"/>
<circle cx="149.0" cy="37.1" r="1.08"/>
<circle cx="149.8" cy="33.7" r="1.08"/>
<circle cx="151.1" cy="24.1" r="1.08"/>
<circle cx="152.2" cy="25.3" r="1.08"/>
<circle cx="152.7" cy="30.8" r="1.08"/>
<circle cx="153.8" cy="43.5" r="1.08"/>
<circle cx="155.0" cy="44.8" r="1.08"/>
<circle cx="155.8" cy="34.9" r="1.08"/>
<circle cx="156.7" cy="46.2" r="1.08"/>
<circle cx="158.0" cy="30.5" r="1.08"/>
<circle cx="159.1" cy="29.5" r="1.08"/>
<circle cx="160.0" cy="39.9" r="1.08"/>
<circle cx="161.0" cy="41.0" r="1.08"/>
<circle cx="162.0" cy="37.8" r="1.08"/>
<circle cx="162.8" cy="36.2" r="1.08"/>
<circle cx="163.9" cy="35.6" r="1.08"/>
<circle cx="164.6" cy="30.1" r="1.08"/>
<circle cx="165.7" cy="44.7" r="1.08"/>
<circle cx="166.7" cy="46.2" r="1.08"/>
<circle cx="168.2" cy="38.6" r="1.08"/>
<circle cx="168.8" cy="33.8" r="1.08"/>
<circle cx="169.7" cy="41.9" r="1.08"/>
<circle cx="170.7" cy="32.4" r="1.08"/>
<circle cx="172.0" cy="35.4" r="1.08"/>
<circle cx="172.7" cy="50.9" r="1.08"/>
<circle cx="173.9" cy="47.5" r="1.08"/>
<circle cx="174.7" cy="42.3" r="1.08"/>
<circle cx="175.6" cy="39.4" r="1.08"/>
<circle cx="176.9" cy="44.2" r="1.08"/>
<circle cx="177.6" cy="44.4" r="1.08"/>
<circle cx="178.7" cy="44.5" r="1.08"/>
<circle cx="179.8" cy="39.5" r="1.08"/>
<circle cx="180.9" cy="46.2" r="1.08"/>
<circle cx="181.7" cy="45.9" r="1.08"/>
<circle cx="183.2" cy="46.7" r="1.08"/>
<circle cx="184.1" cy="45.3" r="1.08"/>
<circle cx="185.1" cy="37.3" r="1.08"/>
<circle cx="185.9" cy="53.7" r="1.08"/>
<circle cx="186.7" cy="52.3" r="1.08"/>
<circle cx="188.1" cy="45.5" r="1.08"/>
<circle cx="188.7" cy="64.1" r="1.08"/>
<circle cx="189.7" cy="42.9" r="1.08"/>
<circle cx="191.1" cy="45.5" r="1.08"/>
<circle cx="192.0" cy="49.8" r="1.08"/>
<circle cx="193.1" cy="57.4" r="1.08"/>
<circle cx="194.0" cy="43.1" r="1.08"/>
<circle cx="194.8" cy="60.8" r="1.08"/>
<circle cx="195.8" cy="65.4" r="1.08"/>
<circle cx="197.0" cy="59.9" r="1.08"/>
<circle cx="197.8" cy="70.4" r="1.08"/>
<circle cx="199.0" cy="57.4" r="1.08"/>
<circle cx="199.9" cy="56.2" r="1.08"/>
<circle cx="200.6" cy="50.3" r="1.08"/>
<circle cx="201.6" cy="58.9" r="1.08"/>
<circle cx="203.1" cy="65.7" r="1.08"/>
<circle cx="204.0" cy="61.0" r="1.08"/>
<circle cx="204.9" cy="60.1" r="1.08"/>
</g>
<path d="M47.40 157.55 L48.73 157.44 L50.06 157.32 L51.39 157.20 L52.72 157.08 L54.05 156.96 L55.38 156.84 L56.71 156.72 L58.04 156.60 L59.37 156.47 L60.70 156.35 L62.03 156.22 L63.36 156.09 L64.69 155.96 L66.02 155.83 L67.35 155.70 L68.68 155.57 L70.01 155.43 L71.34 155.30 L72.67 155.16 L74.01 155.02 L75.34 154.89 L76.67 154.74 L78.00 154.60 L79.33 154.46 L80.66 154.32 L81.99 154.17 L83.32 154.03 L84.65 153.88 L85.98 153.73 L87.31 153.58 L88.64 153.43 L89.97 153.28 L91.30 153.12 L92.63 152.97 L93.96 152.81 L95.29 152.66 L96.62 152.50 L97.95 152.34 L99.28 152.18 L100.61 152.02 L101.94 151.85 L103.27 151.69 L104.60 151.53 L105.93 151.36 L107.26 151.19 L108.59 151.02 L109.92 150.85 L111.25 150.68 L112.58 150.51 L113.91 150.33 L115.24 150.16 L116.57 149.98 L117.90 149.81 L119.23 149.63 L120.56 149.45 L121.89 149.27 L123.22 149.09 L124.55 148.90 L125.88 148.72 L127.22 148.53 L128.55 148.34 L129.88 148.16 L131.21 147.97 L132.54 147.78 L133.87 147.59 L135.20 147.39 L136.53 147.20 L137.86 147.00 L139.19 146.81 L140.52 146.61 L141.85 146.41 L143.18 146.21 L144.51 146.01 L145.84 145.81 L147.17 145.60 L148.50 145.40 L149.83 145.19 L151.16 144.98 L152.49 144.78 L153.82 144.57 L155.15 144.35 L156.48 144.14 L157.81 143.93 L159.14 143.71 L160.47 143.50 L161.80 143.28 L163.13 143.06 L164.46 142.84 L165.79 142.62 L167.12 142.40 L168.45 142.18 L169.78 141.96 L171.11 141.73 L172.44 141.50 L173.77 141.28 L175.10 141.05 L176.43 140.82 L177.76 140.59 L179.09 140.35 L180.43 140.12 L181.76 139.88 L183.09 139.65 L184.42 139.41 L185.75 139.17 L187.08 138.93 L188.41 138.69 L189.74 138.45 L191.07 138.21 L192.40 137.96 L193.73 137.72 L195.06 137.47 L196.39 137.22 L197.72 136.97 L199.05 136.72 L200.38 136.47 L201.71 136.22 L203.04 135.96 L204.37 135.71 L205.70 135.45" fill="none" stroke="#000" stroke-width="1.25"/>
<path d="M47.40 147.05 L48.73 146.97 L50.06 146.88 L51.39 146.79 L52.72 146.71 L54.05 146.62 L55.38 146.54 L56.71 146.45 L58.04 146.37 L59.37 146.29 L60.70 146.20 L62.03 146.12 L63.36 146.03 L64.69 145.95 L66.02 145.86 L67.35 145.77 L68.68 145.68 L70.01 145.59 L71.34 145.49 L72.67 145.39 L74.01 145.28 L75.34 145.17 L76.67 145.05 L78.00 144.93 L79.33 144.79 L80.66 144.64 L81.99 144.48 L83.32 144.30 L84.65 144.11 L85.98 143.89 L87.31 143.66 L88.64 143.39 L89.97 143.10 L91.30 142.78 L92.63 142.42 L93.96 142.02 L95.29 141.57 L96.62 141.08 L97.95 140.54 L99.28 139.94 L100.61 139.28 L101.94 138.57 L103.27 137.80 L104.60 136.97 L105.93 136.09 L107.26 135.16 L108.59 134.18 L109.92 133.17 L111.25 132.13 L112.58 131.08 L113.91 130.03 L115.24 128.99 L116.57 127.97 L117.90 126.99 L119.23 126.05 L120.56 125.17 L121.89 124.35 L123.22 123.59 L124.55 122.89 L125.88 122.27 L127.22 121.71 L128.55 121.22 L129.88 120.78 L131.21 120.40 L132.54 120.08 L133.87 119.80 L135.20 119.56 L136.53 119.35 L137.86 119.18 L139.19 119.04 L140.52 118.92 L141.85 118.82 L143.18 118.74 L144.51 118.67 L145.84 118.61 L147.17 118.56 L148.50 118.52 L149.83 118.48 L151.16 118.45 L152.49 118.42 L153.82 118.39 L155.15 118.37 L156.48 118.34 L157.81 118.31 L159.14 118.28 L160.47 118.25 L161.80 118.22 L163.13 118.19 L164.46 118.15 L165.79 118.11 L167.12 118.07 L168.45 118.03 L169.78 117.98 L171.11 117.93 L172.44 117.88 L173.77 117.82 L175.10 117.76 L176.43 117.70 L177.76 117.63 L179.09 117.57 L180.43 117.50 L181.76 117.42 L183.09 117.35 L184.42 117.27 L185.75 117.19 L187.08 117.10 L188.41 117.02 L189.74 116.93 L191.07 116.83 L192.40 116.74 L193.73 116.65 L195.06 116.55 L196.39 116.45 L197.72 116.34 L199.05 116.24 L200.38 116.13 L201.71 116.03 L203.04 115.92 L204.37 115.80 L205.70 115.69" fill="none" stroke="#000" stroke-width="1.25"/>
<path d="M47.40 137.00 L48.73 137.06 L50.06 137.13 L51.39 137.20 L52.72 137.27 L54.05 137.35 L55.38 137.43 L56.71 137.51 L58.04 137.60 L59.37 137.69 L60.70 137.79 L62.03 137.88 L63.36 137.98 L64.69 138.09 L66.02 138.19 L67.35 138.29 L68.68 138.40 L70.01 138.50 L71.34 138.61 L72.67 138.71 L74.01 138.81 L75.34 138.90 L76.67 138.98 L78.00 139.06 L79.33 139.12 L80.66 139.17 L81.99 139.20 L83.32 139.22 L84.65 139.20 L85.98 139.16 L87.31 139.09 L88.64 138.97 L89.97 138.81 L91.30 138.60 L92.63 138.33 L93.96 137.99 L95.29 137.58 L96.62 137.09 L97.95 136.50 L99.28 135.82 L100.61 135.04 L101.94 134.15 L103.27 133.15 L104.60 132.03 L105.93 130.81 L107.26 129.47 L108.59 128.03 L109.92 126.50 L111.25 124.89 L112.58 123.22 L113.91 121.51 L115.24 119.77 L116.57 118.03 L117.90 116.32 L119.23 114.64 L120.56 113.01 L121.89 111.47 L123.22 110.00 L124.55 108.64 L125.88 107.37 L127.22 106.22 L128.55 105.16 L129.88 104.22 L131.21 103.37 L132.54 102.63 L133.87 101.97 L135.20 101.40 L136.53 100.91 L137.86 100.49 L139.19 100.13 L140.52 99.83 L141.85 99.58 L143.18 99.38 L144.51 99.21 L145.84 99.09 L147.17 98.99 L148.50 98.92 L149.83 98.87 L151.16 98.84 L152.49 98.82 L153.82 98.82 L155.15 98.84 L156.48 98.86 L157.81 98.88 L159.14 98.92 L160.47 98.96 L161.80 99.00 L163.13 99.04 L164.46 99.09 L165.79 99.14 L167.12 99.19 L168.45 99.24 L169.78 99.28 L171.11 99.33 L172.44 99.37 L173.77 99.42 L175.10 99.46 L176.43 99.50 L177.76 99.53 L179.09 99.57 L180.43 99.60 L181.76 99.63 L183.09 99.65 L184.42 99.68 L185.75 99.70 L187.08 99.71 L188.41 99.73 L189.74 99.74 L191.07 99.75 L192.40 99.76 L193.73 99.76 L195.06 99.76 L196.39 99.76 L197.72 99.76 L199.05 99.75 L200.38 99.74 L201.71 99.73 L203.04 99.72 L204.37 99.70 L205.70 99.68" fill="none" stroke="#000" stroke-width="1.25"/>
<path d="M47.40 137.39 L48.73 137.60 L50.06 137.80 L51.39 138.02 L52.72 138.23 L54.05 138.45 L55.38 138.67 L56.71 138.90 L58.04 139.12 L59.37 139.35 L60.70 139.58 L62.03 139.80 L63.36 140.03 L64.69 140.25 L66.02 140.47 L67.35 140.68 L68.68 140.89 L70.01 141.08 L71.34 141.26 L72.67 141.43 L74.01 141.58 L75.34 141.72 L76.67 141.82 L78.00 141.90 L79.33 141.94 L80.66 141.95 L81.99 141.91 L83.32 141.82 L84.65 141.68 L85.98 141.47 L87.31 141.19 L88.64 140.83 L89.97 140.38 L91.30 139.83 L92.63 139.18 L93.96 138.42 L95.29 137.53 L96.62 136.51 L97.95 135.35 L99.28 134.05 L100.61 132.61 L101.94 131.02 L103.27 129.28 L104.60 127.40 L105.93 125.39 L107.26 123.26 L108.59 121.01 L109.92 118.68 L111.25 116.28 L112.58 113.83 L113.91 111.35 L115.24 108.87 L116.57 106.42 L117.90 104.02 L119.23 101.68 L120.56 99.44 L121.89 97.30 L123.22 95.28 L124.55 93.39 L125.88 91.63 L127.22 90.01 L128.55 88.54 L129.88 87.20 L131.21 86.00 L132.54 84.94 L133.87 83.99 L135.20 83.17 L136.53 82.46 L137.86 81.84 L139.19 81.32 L140.52 80.89 L141.85 80.54 L143.18 80.25 L144.51 80.03 L145.84 79.86 L147.17 79.74 L148.50 79.67 L149.83 79.64 L151.16 79.64 L152.49 79.67 L153.82 79.73 L155.15 79.80 L156.48 79.90 L157.81 80.01 L159.14 80.14 L160.47 80.28 L161.80 80.43 L163.13 80.58 L164.46 80.74 L165.79 80.91 L167.12 81.08 L168.45 81.25 L169.78 81.42 L171.11 81.60 L172.44 81.77 L173.77 81.94 L175.10 82.12 L176.43 82.29 L177.76 82.45 L179.09 82.62 L180.43 82.78 L181.76 82.94 L183.09 83.10 L184.42 83.25 L185.75 83.40 L187.08 83.55 L188.41 83.69 L189.74 83.83 L191.07 83.97 L192.40 84.10 L193.73 84.22 L195.06 84.35 L196.39 84.47 L197.72 84.58 L199.05 84.70 L200.38 84.81 L201.71 84.91 L203.04 85.01 L204.37 85.11 L205.70 85.20" fill="none" stroke="#000" stroke-width="1.25"/>
<path d="M47.40 150.15 L48.73 150.50 L50.06 150.86 L51.39 151.20 L52.72 151.54 L54.05 151.87 L55.38 152.19 L56.71 152.49 L58.04 152.78 L59.37 153.06 L60.70 153.31 L62.03 153.54 L63.36 153.75 L64.69 153.93 L66.02 154.08 L67.35 154.20 L68.68 154.28 L70.01 154.32 L71.34 154.31 L72.67 154.26 L74.01 154.14 L75.34 153.97 L76.67 153.73 L78.00 153.41 L79.33 153.02 L80.66 152.54 L81.99 151.97 L83.32 151.29 L84.65 150.50 L85.98 149.60 L87.31 148.57 L88.64 147.40 L89.97 146.09 L91.30 144.64 L92.63 143.02 L93.96 141.23 L95.29 139.28 L96.62 137.15 L97.95 134.83 L99.28 132.33 L100.61 129.65 L101.94 126.79 L103.27 123.75 L104.60 120.54 L105.93 117.16 L107.26 113.63 L108.59 109.97 L109.92 106.20 L111.25 102.32 L112.58 98.38 L113.91 94.38 L115.24 90.36 L116.57 86.35 L117.90 82.36 L119.23 78.44 L120.56 74.61 L121.89 70.88 L123.22 67.29 L124.55 63.85 L125.88 60.59 L127.22 57.51 L128.55 54.63 L129.88 51.96 L131.21 49.49 L132.54 47.24 L133.87 45.21 L135.20 43.39 L136.53 41.77 L137.86 40.35 L139.19 39.12 L140.52 38.08 L141.85 37.20 L143.18 36.49 L144.51 35.93 L145.84 35.51 L147.17 35.22 L148.50 35.05 L149.83 34.99 L151.16 35.02 L152.49 35.15 L153.82 35.35 L155.15 35.63 L156.48 35.97 L157.81 36.36 L159.14 36.81 L160.47 37.30 L161.80 37.83 L163.13 38.39 L164.46 38.98 L165.79 39.60 L167.12 40.23 L168.45 40.88 L169.78 41.55 L171.11 42.23 L172.44 42.91 L173.77 43.60 L175.10 44.30 L176.43 44.99 L177.76 45.69 L179.09 46.39 L180.43 47.08 L181.76 47.77 L183.09 48.46 L184.42 49.14 L185.75 49.82 L187.08 50.49 L188.41 51.15 L189.74 51.81 L191.07 52.46 L192.40 53.10 L193.73 53.73 L195.06 54.36 L196.39 54.97 L197.72 55.58 L199.05 56.18 L200.38 56.77 L201.71 57.35 L203.04 57.92 L204.37 58.48 L205.70 59.03" fill="none" stroke="#000" stroke-width="1.25"/>
<rect x="47.4" y="3.45" width="158.3" height="217.95" fill="none" stroke="#000" stroke-width="1.3" stroke-linejoin="round"/>
<g fill="#1632d2">
<circle cx="86.0" cy="221.4" r="0.62"/>
<circle cx="88.3" cy="221.4" r="0.62"/>
<circle cx="90.6" cy="221.4" r="0.62"/>
<circle cx="92.9" cy="221.4" r="0.62"/>
<circle cx="95.2" cy="221.4" r="0.62"/>
<circle cx="97.5" cy="221.4" r="0.62"/>
<circle cx="99.8" cy="221.4" r="0.62"/>
<circle cx="102.1" cy="221.4" r="0.62"/>
<circle cx="104.4" cy="221.4" r="0.62"/>
<circle cx="106.7" cy="221.4" r="0.62"/>
<circle cx="109.0" cy="221.4" r="0.62"/>
<circle cx="111.3" cy="221.4" r="0.62"/>
<circle cx="113.6" cy="221.4" r="0.62"/>
<circle cx="115.9" cy="221.4" r="0.62"/>
<circle cx="118.2" cy="221.4" r="0.62"/>
<circle cx="120.5" cy="221.4" r="0.62"/>
<circle cx="122.8" cy="221.4" r="0.62"/>
<circle cx="125.1" cy="221.4" r="0.62"/>
<circle cx="127.4" cy="221.4" r="0.62"/>
<circle cx="129.7" cy="221.4" r="0.62"/>
<circle cx="132.0" cy="221.4" r="0.62"/>
<circle cx="134.3" cy="221.4" r="0.62"/>
<circle cx="136.6" cy="221.4" r="0.62"/>
<circle cx="138.9" cy="221.4" r="0.62"/>
<circle cx="141.2" cy="221.4" r="0.62"/>
<circle cx="143.5" cy="221.4" r="0.62"/>
<circle cx="145.8" cy="221.4" r="0.62"/>
<circle cx="148.1" cy="221.4" r="0.62"/>
<circle cx="150.4" cy="221.4" r="0.62"/>
<circle cx="152.7" cy="221.4" r="0.62"/>
<circle cx="155.0" cy="221.4" r="0.62"/>
<circle cx="157.3" cy="221.4" r="0.62"/>
<circle cx="159.6" cy="221.4" r="0.62"/>
<circle cx="161.9" cy="221.4" r="0.62"/>
<circle cx="164.2" cy="221.4" r="0.62"/>
<circle cx="166.5" cy="221.4" r="0.62"/>
<circle cx="168.8" cy="221.4" r="0.62"/>
<circle cx="171.1" cy="221.4" r="0.62"/>
<circle cx="173.4" cy="221.4" r="0.62"/>
<circle cx="175.7" cy="221.4" r="0.62"/>
<circle cx="178.0" cy="221.4" r="0.62"/>
<circle cx="180.3" cy="221.4" r="0.62"/>
<circle cx="182.6" cy="221.4" r="0.62"/>
<circle cx="184.9" cy="221.4" r="0.62"/>
<circle cx="187.2" cy="221.4" r="0.62"/>
<circle cx="189.5" cy="221.4" r="0.62"/>
<circle cx="191.8" cy="221.4" r="0.62"/>
<circle cx="194.1" cy="221.4" r="0.62"/>
<circle cx="196.4" cy="221.4" r="0.62"/>
<circle cx="198.7" cy="221.4" r="0.62"/>
<circle cx="201.0" cy="221.4" r="0.62"/>
<circle cx="203.3" cy="221.4" r="0.62"/>
</g>
<path d="M205.7 150 V221.4" stroke="#1c1c6a" stroke-width="1.3"/>
<text x="39.3" y="225.50" font-size="11.1" font-weight="bold" text-anchor="end">0.00</text>
<text x="39.3" y="165.00" font-size="11.1" font-weight="bold" text-anchor="end">0.05</text>
<text x="39.3" y="104.50" font-size="11.1" font-weight="bold" text-anchor="end">0.10</text>
<text x="39.3" y="44.00" font-size="11.1" font-weight="bold" text-anchor="end">0.15</text>
<text x="47.20" y="238.8" font-size="11.1" font-weight="bold" text-anchor="middle">1550</text>
<text x="78.86" y="238.8" font-size="11.1" font-weight="bold" text-anchor="middle">1600</text>
<text x="110.52" y="238.8" font-size="11.1" font-weight="bold" text-anchor="middle">1650</text>
<text x="142.18" y="238.8" font-size="11.1" font-weight="bold" text-anchor="middle">1700</text>
<text x="173.84" y="238.8" font-size="11.1" font-weight="bold" text-anchor="middle">1750</text>
<text x="205.50" y="238.8" font-size="11.1" font-weight="bold" text-anchor="middle">1800</text>
<path d="M42.2 221.40 H47.4 M42.2 160.90 H47.4 M42.2 100.40 H47.4 M42.2 39.90 H47.4 M47.40 221.4 V226.6 M79.06 221.4 V226.6 M110.72 221.4 V226.6 M142.38 221.4 V226.6 M174.04 221.4 V226.6 M205.70 221.4 V226.6" stroke="#000" stroke-width="1.3" fill="none"/>
<text x="49.2" y="20.2" font-size="13" font-weight="bold">(a)</text>
<text x="126.5" y="258.7" font-size="11.1" font-weight="bold" text-anchor="middle">Wavenumber (cm<tspan dx="0.8" dy="-5.3" font-size="8.6">-1</tspan><tspan dx="0" dy="5.3">)</tspan></text>
<text transform="translate(9.9 112.9) rotate(-90)" x="0" y="0" font-size="11.2" font-weight="bold" text-anchor="middle">Intensity (arb. unit)</text>
<text class="lg" x="57.8" y="46.5" font-size="8.3">H<tspan dy="2" font-size="5.8">2</tspan><tspan dy="-2">O/D</tspan><tspan dy="2" font-size="5.8">2</tspan><tspan dy="-2">O =</tspan></text>
<circle cx="64.7" cy="53.60" r="2.3" fill="#ff1414"/>
<text class="lg" x="75" y="56.30" font-size="8.3">1/0</text>
<circle cx="64.7" cy="62.15" r="2.3" fill="#ff9410"/>
<text class="lg" x="75" y="64.85" font-size="8.3">2/1</text>
<circle cx="64.7" cy="70.70" r="2.3" fill="#38e61c"/>
<text class="lg" x="75" y="73.40" font-size="8.3">1/1</text>
<circle cx="64.7" cy="79.25" r="2.3" fill="#3cbaf8"/>
<text class="lg" x="75" y="81.95" font-size="8.3">1/2</text>
<circle cx="64.7" cy="87.80" r="2.3" fill="#1632d2"/>
<text class="lg" x="75" y="90.50" font-size="8.3">0/1</text>
<path d="M58.4 96.35 H70.6" stroke="#1a1a2a" stroke-width="1.3"/>
<text class="lg" x="75" y="99.05" font-size="8.3">Fitting</text>
<rect x="268.30" y="6.10" width="118.60" height="59.20" fill="none" stroke="#000" stroke-width="1.3" stroke-linejoin="round"/>
<path d="M263.50 65.30 H268.30 M263.50 50.50 H268.30 M263.50 35.70 H268.30 M263.50 20.90 H268.30 M263.50 6.10 H268.30 M273.30 65.30 V70.60 M294.84 65.30 V70.60 M316.38 65.30 V70.60 M337.92 65.30 V70.60 M359.46 65.30 V70.60 M381.00 65.30 V70.60" stroke="#000" stroke-width="1.3" fill="none"/>
<text x="260.2" y="68.80" font-size="11.1" font-weight="bold" text-anchor="end">1620</text>
<text x="260.2" y="54.00" font-size="11.1" font-weight="bold" text-anchor="end">1640</text>
<text x="260.2" y="39.20" font-size="11.1" font-weight="bold" text-anchor="end">1660</text>
<text x="260.2" y="24.40" font-size="11.1" font-weight="bold" text-anchor="end">1680</text>
<text x="260.2" y="9.60" font-size="11.1" font-weight="bold" text-anchor="end">1700</text>
<text x="269.8" y="19.50" font-size="13" font-weight="bold">(b)</text>
<rect x="268.30" y="83.00" width="118.60" height="59.10" fill="none" stroke="#000" stroke-width="1.3" stroke-linejoin="round"/>
<path d="M263.50 142.10 H268.30 M263.50 127.32 H268.30 M263.50 112.55 H268.30 M263.50 97.78 H268.30 M263.50 83.00 H268.30 M273.30 142.10 V147.40 M294.84 142.10 V147.40 M316.38 142.10 V147.40 M337.92 142.10 V147.40 M359.46 142.10 V147.40 M381.00 142.10 V147.40" stroke="#000" stroke-width="1.3" fill="none"/>
<text x="260.2" y="145.60" font-size="11.1" font-weight="bold" text-anchor="end">20</text>
<text x="260.2" y="130.82" font-size="11.1" font-weight="bold" text-anchor="end">40</text>
<text x="260.2" y="116.05" font-size="11.1" font-weight="bold" text-anchor="end">60</text>
<text x="260.2" y="101.28" font-size="11.1" font-weight="bold" text-anchor="end">80</text>
<text x="260.2" y="86.50" font-size="11.1" font-weight="bold" text-anchor="end">100</text>
<text x="269.8" y="96.40" font-size="13" font-weight="bold">(c)</text>
<rect x="268.30" y="161.40" width="118.60" height="59.40" fill="none" stroke="#000" stroke-width="1.3" stroke-linejoin="round"/>
<path d="M263.50 220.80 H268.30 M263.50 201.00 H268.30 M263.50 181.20 H268.30 M263.50 161.40 H268.30 M265.60 210.90 H268.30 M265.60 191.10 H268.30 M265.60 171.30 H268.30 M273.30 220.80 V226.10 M294.84 220.80 V226.10 M316.38 220.80 V226.10 M337.92 220.80 V226.10 M359.46 220.80 V226.10 M381.00 220.80 V226.10" stroke="#000" stroke-width="1.3" fill="none"/>
<text x="260.2" y="224.30" font-size="11.1" font-weight="bold" text-anchor="end">0</text>
<text x="260.2" y="204.50" font-size="11.1" font-weight="bold" text-anchor="end">4</text>
<text x="260.2" y="184.70" font-size="11.1" font-weight="bold" text-anchor="end">8</text>
<text x="260.2" y="164.90" font-size="11.1" font-weight="bold" text-anchor="end">12</text>
<text x="269.8" y="174.80" font-size="13" font-weight="bold">(d)</text>
<text x="273.10" y="238.6" font-size="11.1" font-weight="bold" text-anchor="middle">0</text>
<text x="294.64" y="238.6" font-size="11.1" font-weight="bold" text-anchor="middle">20</text>
<text x="316.18" y="238.6" font-size="11.1" font-weight="bold" text-anchor="middle">40</text>
<text x="337.72" y="238.6" font-size="11.1" font-weight="bold" text-anchor="middle">60</text>
<text x="359.26" y="238.6" font-size="11.1" font-weight="bold" text-anchor="middle">80</text>
<text x="380.80" y="238.6" font-size="11.1" font-weight="bold" text-anchor="middle">100</text>
<text x="327" y="257.6" font-size="11" font-weight="bold" text-anchor="middle">H<tspan dy="2.5" font-size="7.5">2</tspan><tspan dy="-2.5">O fraction (%)</tspan></text>
<path d="M268.3 36.9 H386.9 M268.3 113.8 H386.9" stroke="#111" stroke-width="1.4" stroke-dasharray="2.4 1.65" fill="none"/>
<path d="M273.3 221 L381.4 167.7" stroke="#111" stroke-width="1.35" stroke-dasharray="2.3 1.75" fill="none"/>
<path d="M285.60 34.30 V56.60 M283.60 34.30 H287.60 M283.60 56.60 H287.60 M300.40 29.50 V43.75 M298.40 29.50 H302.40 M298.40 43.75 H302.40 M321.80 32.10 V40.70 M319.80 32.10 H323.80 M319.80 40.70 H323.80 M381.40 27.60 V43.20 M379.40 27.60 H383.40 M379.40 43.20 H383.40 M285.60 110.40 V132.20 M283.60 110.40 H287.60 M283.60 132.20 H287.60 M300.40 112.70 V126.40 M298.40 112.70 H302.40 M298.40 126.40 H302.40 M321.80 111.25 V119.30 M319.80 111.25 H323.80 M319.80 119.30 H323.80 M381.40 101.40 V116.70 M379.40 101.40 H383.40 M379.40 116.70 H383.40 M285.60 210.70 V215.70 M283.60 210.70 H287.60 M283.60 215.70 H287.60 M300.40 205.00 V210.40 M298.40 205.00 H302.40 M298.40 210.40 H302.40 M321.80 193.40 V200.50 M319.80 193.40 H323.80 M319.80 200.50 H323.80 M381.40 166.60 V168.80 M379.40 166.60 H383.40 M379.40 168.80 H383.40" stroke="#ff1840" stroke-width="0.8" fill="none"/>
<g fill="#ff1840">
<circle cx="285.60" cy="45.50" r="1.5"/>
<circle cx="300.40" cy="36.60" r="1.5"/>
<circle cx="321.80" cy="36.30" r="1.5"/>
<circle cx="381.40" cy="35.40" r="1.5"/>
<circle cx="285.60" cy="121.30" r="1.5"/>
<circle cx="300.40" cy="119.30" r="1.5"/>
<circle cx="321.80" cy="114.80" r="1.5"/>
<circle cx="381.40" cy="109.20" r="1.5"/>
<circle cx="285.60" cy="213.60" r="1.5"/>
<circle cx="300.40" cy="208.00" r="1.5"/>
<circle cx="321.80" cy="197.30" r="1.5"/>
<circle cx="381.40" cy="167.70" r="1.5"/>
<circle cx="273.3" cy="221" r="1.5"/>
</g>
<text transform="translate(228.7 36.2) rotate(-90)" font-size="10.8" font-weight="bold" text-anchor="middle">ω<tspan dy="2" font-size="8">bend</tspan><tspan dy="-2"> (cm</tspan><tspan dx="0.3" dy="-6.3" font-size="8.4">-1</tspan><tspan dx="-0.2" dy="6.3">)</tspan></text>
<text transform="translate(231.4 112.6) rotate(-90)" font-size="10.8" font-weight="bold" text-anchor="middle">Γ<tspan dy="2" font-size="8">bend</tspan><tspan dy="-2"> (cm</tspan><tspan dx="0.3" dy="-6.3" font-size="8.4">-1</tspan><tspan dx="-0.2" dy="6.3">)</tspan></text>
<text transform="translate(229 192.5) rotate(-90)" font-size="11" font-weight="bold" text-anchor="middle">A<tspan dy="2" font-size="8">bend</tspan></text>
<text transform="translate(239.6 190.5) rotate(-90)" font-size="11" font-weight="bold" text-anchor="middle">(arb. unit)</text>
</svg></body></html>
